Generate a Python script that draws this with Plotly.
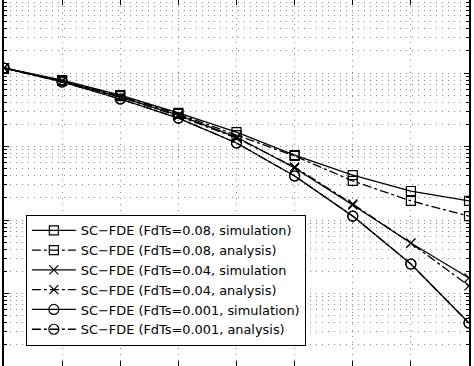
import plotly.graph_objects as go

snr_db = [0, 5, 10, 15, 20, 25, 30, 35, 40]

ber_008_sim = [0.117, 0.0803, 0.0502, 0.0286, 0.0157, 0.00766, 0.00409, 0.00248, 0.00182]
ber_008_ana = [0.117, 0.0778, 0.0486, 0.0277, 0.0143, 0.00743, 0.00340, 0.00182, 0.00113]
ber_004_sim = [0.117, 0.0778, 0.0471, 0.0268, 0.01346, 0.00510, 0.00160, 0.000486, 0.000163]
ber_004_ana = [0.117, 0.0778, 0.0471, 0.0260, 0.01305, 0.00526, 0.00165, 0.000486, 0.000127]
ber_0001_sim = [0.117, 0.0755, 0.0443, 0.0244, 0.01117, 0.00397, 0.00113, 0.000252, 0.0000397]
ber_0001_ana = [0.117, 0.0755, 0.0443, 0.0244, 0.01117, 0.00397, 0.00113, 0.000252, 0.0000397]

names = [
    "SC\u2212FDE (FdTs=0.08, simulation)",
    "SC\u2212FDE (FdTs=0.08, analysis)",
    "SC\u2212FDE (FdTs=0.04, simulation",
    "SC\u2212FDE (FdTs=0.04, analysis)",
    "SC\u2212FDE (FdTs=0.001, simulation)",
    "SC\u2212FDE (FdTs=0.001, analysis)",
]

series = [ber_008_sim, ber_008_ana, ber_004_sim, ber_004_ana, ber_0001_sim, ber_0001_ana]
symbols = ["square-open", "square-open", "x-thin", "x-thin", "circle-open", "circle-open"]
sizes = [9, 9, 9, 9, 10, 10]
dashes = ["solid", "dashdot", "solid", "dashdot", "solid", "dashdot"]

fig = go.Figure()
for name, ys, sym, sz, dsh in zip(names, series, symbols, sizes, dashes):
    fig.add_trace(go.Scatter(
        x=snr_db, y=ys, name=name, mode="lines+markers",
        line=dict(color="black", width=1.3, dash=dsh),
        marker=dict(symbol=sym, size=sz, color="black",
                    line=dict(color="black", width=1.2)),
    ))

minor_vals = [m * 10.0 ** e for e in range(-6, 1) for m in range(2, 10)]
grid_dash = "1px,5px"

fig.update_layout(
    width=474, height=366,
    margin=dict(l=4, r=5, t=0, b=0),
    paper_bgcolor="white", plot_bgcolor="white",
    font=dict(family="DejaVu Sans, sans-serif", size=12.9, color="black"),
    showlegend=True,
    legend=dict(
        x=0.047, y=0.056, xanchor="left", yanchor="bottom",
        bgcolor="white", bordercolor="black", borderwidth=1,
        itemwidth=44,
        font=dict(family="DejaVu Sans, sans-serif", size=12.9, color="black"),
    ),
    xaxis=dict(
        range=[0, 40], tick0=0, dtick=5, showticklabels=False,
        showline=False, mirror="ticks", ticks="inside", ticklen=5,
        tickcolor="black", zeroline=False,
        showgrid=True, gridcolor="#8a8a8a", gridwidth=1, griddash=grid_dash,
    ),
    yaxis=dict(
        type="log", range=[-4.986, -0.0068], dtick=1, showticklabels=False,
        showline=True, linecolor="black", linewidth=1.5, mirror="allticks",
        ticks="inside", ticklen=5, tickcolor="black", zeroline=False,
        showgrid=True, gridcolor="#8a8a8a", gridwidth=1, griddash=grid_dash,
        minor=dict(tickvals=minor_vals, ticks="inside", ticklen=3, tickcolor="black",
                   showgrid=True, gridcolor="#8a8a8a", gridwidth=1, griddash=grid_dash),
    ),
)

fig.write_html("out.html", config={"displayModeBar": False},
               post_script="document.body.style.margin='0';")
